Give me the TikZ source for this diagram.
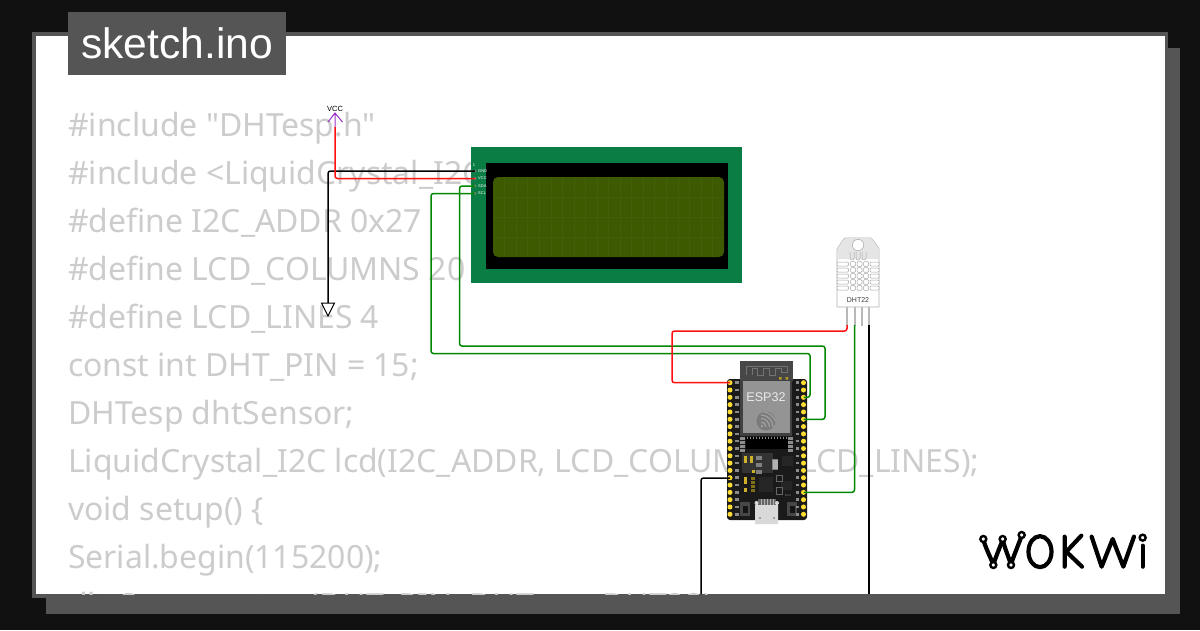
\documentclass[tikz,border=0pt]{standalone}
\usepackage{fontspec}
\setmainfont{Liberation Sans}
\newfontfamily\codefont{Noto Sans}
\newfontfamily\titlefont{Liberation Sans}
\definecolor{bgdark}{HTML}{111111}
\definecolor{panelgray}{HTML}{555555}
\definecolor{codegray}{HTML}{CCCCCC}
\definecolor{lcdgreen}{HTML}{0A7D45}
\definecolor{lcdolive}{HTML}{3D5A00}
\definecolor{lcdgrid}{HTML}{416008}
\definecolor{wiregreen}{HTML}{008800}
\definecolor{wirered}{HTML}{FF1010}
\definecolor{pinyellow}{HTML}{FFDD33}
\definecolor{boardblack}{HTML}{1A1A1A}
\definecolor{vccpurple}{HTML}{9A30C8}
\tikzset{
  codeline/.style={anchor=base west,inner sep=0pt,text=codegray,font=\codefont\fontsize{31.93}{32}\selectfont},
  wire/.style={line width=1.5pt,rounded corners=2.5pt},
  redwire/.style={wire,draw=wirered},
  greenwire/.style={wire,draw=wiregreen},
  blackwire/.style={wire,draw=black},
  lcdlabel/.style={anchor=west,inner sep=0pt,text=white,font=\fontsize{4}{4}\selectfont},
  pinhole/.style={fill=pinyellow,draw=none,circle,minimum size=5pt,inner sep=0pt},
  logostroke/.style={draw=black,line width=4.2pt,line cap=round,line join=round},
  logodot/.style={draw=black,fill=white,line width=2.4pt}
}
\begin{document}
\begin{tikzpicture}[x=1pt,y=-1pt]
\useasboundingbox (0,0) rectangle (1200,630);
\fill[bgdark] (0,0) rectangle (1200,630);
% shadow and frame
\fill[panelgray] (46,48) rectangle (1180,614);
\fill[panelgray] (32,32) rectangle (1168,598);
\fill[white] (36,36) rectangle (1165,594);
% code
\begin{scope}
\clip (36,36) rectangle (1165,594);
\node[codeline] (c1) at (68,136) {\#include "DHTesp.h"};
\node[codeline] (c2) at (68,184) {\#include <LiquidCrystal\_I2C.h>};
\node[codeline] (c3) at (68,232) {\#define I2C\_ADDR 0x27};
\node[codeline] (c4) at (68,280) {\#define LCD\_COLUMNS 20};
\node[codeline] (c5) at (68,328) {\#define LCD\_LINES 4};
\node[codeline] (c6) at (68,376) {const int DHT\_PIN = 15;};
\node[codeline] (c7) at (68,424) {DHTesp dhtSensor;};
\node[codeline] (c8) at (68,472) {LiquidCrystal\_I2C lcd(I2C\_ADDR, LCD\_COLUMNS, LCD\_LINES);};
\node[codeline] (c9) at (68,520) {void setup() \{};
\node[codeline] (c10) at (68,568) {Serial.begin(115200);};
\node[codeline] (c11) at (68,616) {dhtSensor.setup(DHT\_PIN, DHTesp::DHT22);};
\end{scope}
% title tab
\fill[panelgray] (68,12) rectangle (286,75);
\node[anchor=base west,inner sep=0pt,text=white,font=\titlefont\fontsize{42.6}{42.6}\selectfont] (title) at (81,58) {sketch.ino};
% LCD
\fill[lcdgreen] (471,147) rectangle (742,283);
\fill[black] (486,163) rectangle (728,269);
\fill[lcdolive,rounded corners=5pt] (493,177) rectangle (724,257);
\begin{scope}
\clip[rounded corners=5pt] (493,177) rectangle (724,257);
\foreach \i in {1,...,19} \draw[lcdgrid,line width=0.5pt] ({493+\i*11.55},177) -- ({493+\i*11.55},257);
\foreach \i in {1,...,3} \draw[lcdgrid,line width=0.5pt] (493,{177+\i*20}) -- (724,{177+\i*20});
\end{scope}
\node[inner sep=0pt,text=white,font=\fontsize{4}{4}\selectfont] (lcdone) at (474,165.5) {1};
\foreach \n/\y/\t in {lcdgnd/171/GND,lcdvcc/178.5/VCC,lcdsda/186/SDA,lcdscl/193.5/SCL}{
  \fill[gray] (475,\y) circle (1.6pt);
  \coordinate (\n) at (475,\y);
  \node[lcdlabel] at (478,\y) {\t};
}
% DHT22
\foreach \x in {847,854.5,862,869}
  \draw[line width=2pt,draw=black!28] (\x,306) -- (\x,326);
\coordinate (dhtvcc) at (847,325);
\coordinate (dhtsda) at (854.5,325);
\coordinate (dhtgnd) at (869,325);
\draw[fill=white,draw=black!30,line width=0.7pt]
  (837,307) -- (837,249) -- (843,240) -- (845,238) -- (871,238) -- (873,240) -- (879,249) -- (879,307) -- cycle;
\fill[black!10] (837.5,249) -- (843,240.5) -- (845,238.5) -- (871,238.5) -- (873,240.5) -- (878.5,249) -- (878.5,259) -- (837.5,259) -- cycle;
\draw[fill=white,draw=black!35,line width=0.5pt] (858,245) circle (5.7pt);
\foreach \x in {850,856,862}
  \draw[draw=black!35,line width=0.5pt] (\x,252) -- (\x,258) arc (180:360:2pt and 2pt) -- ({\x+4},252);
\foreach \y in {264,270,276,282,288}{
  \foreach \x in {850.5,857,863.5}
    \draw[draw=black!35,fill=white,line width=0.5pt,rounded corners=1pt] (\x,{\y-2.3}) rectangle ({\x+5},{\y+2.3});
  \draw[draw=black!35,fill=white,line width=0.5pt,rounded corners=1pt] (837,{\y-2}) rectangle (848.5,{\y+2});
  \draw[draw=black!35,fill=white,line width=0.5pt,rounded corners=1pt] (870,{\y-2}) rectangle (879,{\y+2});
}
\node[inner sep=0pt,text=black!75,font=\fontsize{7}{7}\selectfont] (dhtlabel) at (858,300.5) {DHT22};
% ESP32 board
\fill[boardblack,rounded corners=3pt] (727,379) rectangle (807,520);
\fill[black!72] (740,361) rectangle (793,381);
\draw[black!55,line width=0.7pt] (746,375) -- (746,366) -- (787,366) -- (787,372) -- (781,372) -- (781,368) -- (775,368) -- (775,375) -- (769,375) -- (769,368) -- (763,368) -- (763,375) -- (757,375) -- (757,368) -- (752,368) -- (752,375);
\fill[pinyellow!70!black] (779,377) rectangle (781.5,379.5) (785.5,377) rectangle (788,379.5);
\fill[black!75] (740,380) rectangle (792,436);
\fill[black!42] (742.5,381) rectangle (790,433);
\node[inner sep=0pt,text=white!92!black,font=\fontsize{12.6}{12.6}\selectfont] (esplabel) at (766,397.5) {ESP32};
\fill[black!52] (766,421) circle (9.5pt);
\begin{scope}
\clip (766,421) circle (9.5pt);
\foreach \r in {5,8.5,12,15.5}
  \draw[black!38,line width=1.3pt] ({761+\r},427) arc (0:90:\r pt);
\end{scope}
\fill[black!38] (762,426) circle (1.5pt);
% ESP lower parts
\fill[black] (746,437) rectangle (788,449);
\foreach \i in {0,...,13} \fill[black!45] ({747+\i*3},436.5) rectangle ({748.2+\i*3},438.5);
\foreach \y in {437,441,445,449} {
  \fill[black!45] (740,\y) rectangle (745,{\y+2.5});
  \fill[black!45] (788,\y) rectangle (793,{\y+2.5});
}
\fill[black!80] (742,453) rectangle (773,473);
\fill[black!50] (772,459) rectangle (778,470);
\fill[black!30] (773,460) rectangle (777.5,469);
\foreach \x/\y/\w/\h in {744/456/3/7,750/456/3/7,743.5/477/3/7,743.5/488/3/4,752/470/3/3}
  \fill[pinyellow!80!black] (\x,\y) rectangle ({\x+\w},{\y+\h});
\foreach \y in {456,463,470} \fill[black!50] (756,\y) rectangle (762,{\y+4});
\foreach \y in {477,481,485,489} \fill[pinyellow!50!black] (751,\y) rectangle (755,{\y+2.5});
\fill[black!85] (759,477) rectangle (773,492);
\fill[black!85] (782,456) rectangle (793,466);
\fill[black!85] (781,481) rectangle (792,490);
\draw[black!60,line width=0.5pt] (776,475) rectangle (782,481) (776,487) rectangle (782,494);
\node[inner sep=0pt,text=black!55,font=\fontsize{3}{3}\selectfont] (bootlabel) at (788,495) {Boot};
\foreach \x in {740,787}{
  \fill[black!72] (\x,502) rectangle ({\x+10},516);
  \fill[black!92] ({\x+2.5},505.5) rectangle ({\x+7.5},512.5);
}
% usb
\fill[white!85!black] (755,505) -- (758,503) -- (776,503) -- (778,505) -- (778,524) -- (755,524) -- cycle;
\fill[black!60] (758,499) rectangle (776,505);
\fill[white!85!black] (756.5,503) circle (2pt) (777,503) circle (2pt);
\foreach \x in {761,764,767,770,773} \draw[black!30,line width=0.5pt] (\x,499) -- (\x,505);
\fill[black!60] (760,518) circle (0.8pt) (774,518) circle (0.8pt);
% ESP pins
\foreach \i in {0,...,18}{
  \pgfmathsetmacro{\py}{382.7+\i*7.31}
  \node[pinhole] at (730,\py) {};
  \node[pinhole] at (803.5,\py) {};
  \fill[black!45] (735,{\py-1.3}) rectangle (738.5,{\py+1.3});
  \fill[black!45] (795.5,{\py-1.3}) rectangle (799,{\py+1.3});
}
\coordinate (esptop) at (730,382.7);
\coordinate (espgp1) at (803.5,397.3);
\coordinate (espgp2) at (803.5,419.3);
\coordinate (espgp3) at (803.5,492.3);
\coordinate (espgnd) at (730,478);
% power symbols
\node[inner sep=0pt,font=\fontsize{7.5}{7.5}\selectfont,text=black] (vcclabel) at (335,108.5) {VCC};
\coordinate (vcctip) at (335,113);
\coordinate (vccstem) at (335,127);
\draw[vccpurple,line width=1pt] (328,122) -- (vcctip) -- (342.5,122) (vcctip) -- (vccstem);
\coordinate (gndtop) at (328,303);
\draw[black,fill=white,line width=1pt] (321.5,303) -- (334.5,303) -- (328,316) -- cycle;
% wires
\draw[blackwire] (lcdgnd) -- (328,171) -- (gndtop);
\draw[redwire] (lcdvcc) -- (335,178.5) -- (vccstem);
\draw[greenwire] (lcdsda) -- (459.5,186) -- (459.5,346) -- (825,346) -- (825,419.3) -- (espgp2);
\draw[greenwire] (lcdscl) -- (431,193.5) -- (431,353.5) -- (810,353.5) -- (810,397.3) -- (espgp1);
\draw[redwire] (dhtvcc) -- (847,331) -- (672,331) -- (672,382.7) -- (esptop);
\draw[greenwire] (dhtsda) -- (854.5,492.3) -- (espgp3);
\coordinate (wireendA) at (869,594);
\coordinate (wireendB) at (701,594);
\draw[blackwire] (dhtgnd) -- (wireendA);
\draw[blackwire] (espgnd) -- (701,478) -- (wireendB);
% Wokwi logo
\begin{scope}[shift={(960,515)},x=0.3333pt,y=-0.3333pt]
\draw[logostroke] (70,75) .. controls (78,100) and (90,125) .. (100,148) .. controls (108,125) and (118,100) .. (128,75);
\draw[logostroke] (128,75) .. controls (135,100) and (145,125) .. (153,148) .. controls (162,120) and (175,90) .. (185,62);
\draw[logostroke] (240,110) ellipse (11.5pt and 15.5pt);
\draw[logostroke] (314,65) -- (314,155) (364,62) -- (319,110) -- (366,155);
\draw[logostroke] (395,65) -- (425,155) -- (458,72) -- (490,155) -- (522,65);
\draw[logostroke] (548,92) -- (548,155);
\foreach \p in {(70,72),(128,72),(185,60),(100,150),(153,150),(548,68)}
  \draw[logodot] \p circle (3pt);
\end{scope}
\end{tikzpicture}
\end{document}
